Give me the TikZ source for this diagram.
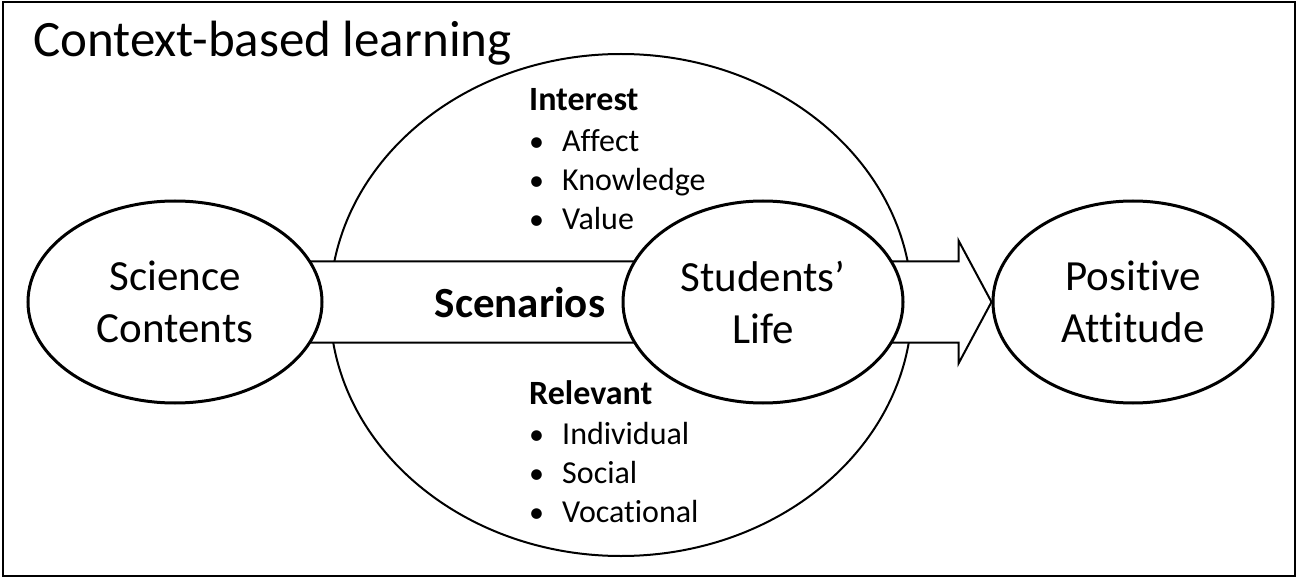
\documentclass[tikz,border=0pt]{standalone}
\usepackage{fontspec}
\setmainfont{Carlito}[RawFeature={-liga}]
\usetikzlibrary{shapes.geometric,calc,backgrounds}
\tikzset{
  oval/.style={ellipse, draw=black, line width=3pt, fill=white, inner sep=0pt,
    minimum width=#1, minimum height=202pt, align=center,
    font=\fontsize{43}{52}\selectfont},
  oval/.default=280pt,
  arrowbox/.style={draw=black, line width=2pt, fill=white, line join=miter},
  head/.style={anchor=base west, font=\fontsize{34}{40}\selectfont\bfseries, inner sep=0pt},
  item/.style={anchor=base west, font=\fontsize{32}{38}\selectfont, inner sep=0pt},
  dot/.style={anchor=base west, font=\fontsize{30}{38}\selectfont, inner sep=0pt},
}
\begin{document}
\begin{tikzpicture}[x=1pt,y=-1pt]
\useasboundingbox (0,0) rectangle (1299,580);
\node[oval=294pt] (sci) at (175,302) {Science\\Contents};
\node[oval] (stu) at (763,302) {Students’\\Life};
\node[oval] (pos) at (1133,302) {Positive\\Attitude};
\begin{pgfonlayer}{background}
  \draw[line width=2pt] (3,2) rectangle (1295,576);
  \node[ellipse, draw=black, line width=2pt, minimum width=582pt, minimum height=502pt, inner sep=0pt] (scen) at (621,305) {};
  \draw[arrowbox] ($(sci.center)+(0,-40.5)$) -- ($(pos.west)+(-33,-40.5)$)
     -- ($(pos.west)+(-33,-61.5)$) -- (pos.west) -- ($(pos.west)+(-33,61.5)$)
     -- ($(pos.west)+(-33,40.5)$) -- ($(sci.center)+(0,40.5)$) -- cycle;
\end{pgfonlayer}
\node[anchor=base west, inner sep=0pt, font=\fontsize{51}{60}\selectfont] (title) at (33,57) {Context-based learning};
\node[anchor=center, inner sep=0pt, font=\fontsize{43}{52}\selectfont\bfseries] (scn) at (520,303) {Scenarios};
\node[head] (int) at (529,111) {Interest};
\node[dot] (b1) at (529,152) {•};
\node[item] (i1) at (562,152) {Affect};
\node[dot] (b2) at (529,191) {•};
\node[item] (i2) at (562,191) {Knowledge};
\node[dot] (b3) at (529,230) {•};
\node[item] (i3) at (562,230) {Value};
\node[head] (rel) at (529,404) {Relevant};
\node[dot] (b4) at (529,444) {•};
\node[item] (r1) at (562,444) {Individual};
\node[dot] (b5) at (529,483) {•};
\node[item] (r2) at (562,483) {Social};
\node[dot] (b6) at (529,522) {•};
\node[item] (r3) at (562,522) {Vocational};
\end{tikzpicture}
\end{document}
